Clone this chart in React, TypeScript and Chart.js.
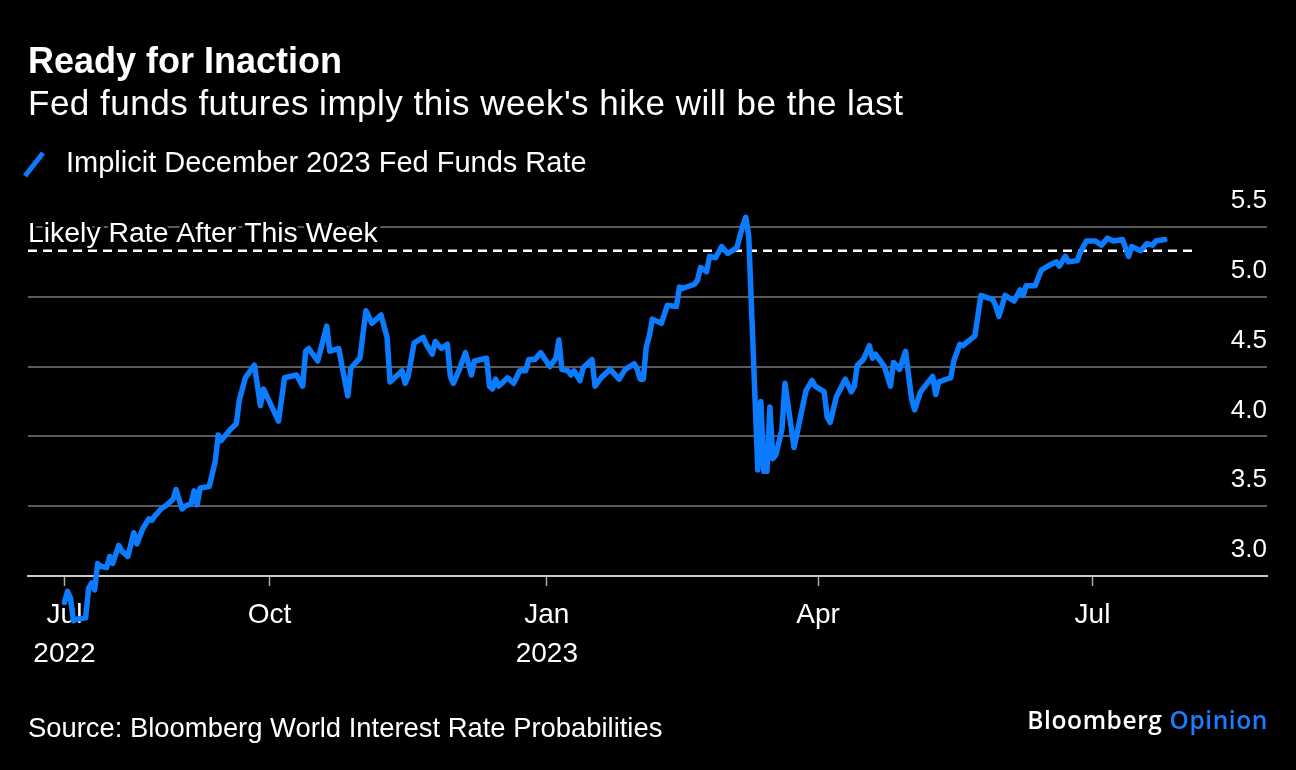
import React, { useEffect, useRef } from "react";
import { Chart, registerables } from "chart.js";

Chart.register(...registerables);

// Days since 2022-07-01 for each observation
const days = [
  24, 25, 26, 27, 28, 31, 32, 33, 34, 35, 36, 38, 39, 40, 42, 43, 45, 47, 48, 50,
  52, 53, 54, 56, 58, 60, 61, 63, 64, 66, 67, 68, 69, 72, 74, 75, 76, 79, 81, 82,
  84, 87, 89, 90, 95, 97, 101, 103, 104, 105, 108, 111, 112, 115, 116, 118, 119, 122, 124, 126,
  129, 131, 132, 136, 137, 138, 140, 143, 144, 146, 147, 149, 151, 152, 153, 155, 157, 159, 160, 164,
  165, 166, 167, 168, 171, 173, 175, 177, 178, 180, 182, 185, 187, 188, 189, 191, 192, 193, 195, 196,
  199, 200, 202, 205, 208, 210, 213, 214, 215, 216, 217, 218, 219, 222, 224, 227, 228, 229, 233, 234,
  235, 237, 238, 240, 242, 244, 247, 249, 250, 251, 252, 254, 255, 256, 257, 258, 259, 260, 262, 263,
  266, 270, 272, 273, 276, 277, 278, 280, 283, 285, 286, 287, 289, 291, 292, 293, 296, 298, 299, 301,
  303, 305, 306, 308, 312, 313, 314, 318, 319, 321, 322, 326, 328, 332, 333, 334, 336, 339, 341, 342,
  343, 346, 348, 351, 353, 354, 356, 357, 360, 361, 363, 366, 368, 370, 372, 375, 377, 378, 381, 383,
  385, 386, 389,
];

// Implicit December 2023 Fed Funds Rate (%)
const rates = [
  2.81, 2.89, 2.84, 2.68, 2.69, 2.70, 2.91, 2.95, 2.90, 3.09, 3.07, 3.06, 3.14, 3.09, 3.22, 3.18, 3.14, 3.31, 3.23, 3.34,
  3.41, 3.40, 3.43, 3.48, 3.51, 3.55, 3.62, 3.48, 3.50, 3.52, 3.61, 3.51, 3.63, 3.64, 3.82, 4.01, 3.97, 4.05, 4.09, 4.26,
  4.42, 4.51, 4.22, 4.34, 4.11, 4.42, 4.44, 4.36, 4.61, 4.63, 4.54, 4.79, 4.61, 4.63, 4.51, 4.29, 4.49, 4.56, 4.90, 4.81,
  4.87, 4.71, 4.39, 4.47, 4.38, 4.43, 4.67, 4.71, 4.66, 4.59, 4.68, 4.63, 4.66, 4.43, 4.38, 4.48, 4.60, 4.44, 4.54, 4.56,
  4.36, 4.34, 4.41, 4.36, 4.42, 4.38, 4.47, 4.47, 4.55, 4.55, 4.60, 4.50, 4.56, 4.69, 4.48, 4.47, 4.44, 4.47, 4.40, 4.49,
  4.55, 4.36, 4.42, 4.48, 4.41, 4.48, 4.52, 4.48, 4.41, 4.41, 4.64, 4.72, 4.84, 4.81, 4.94, 4.93, 5.07, 5.06, 5.09, 5.12,
  5.21, 5.18, 5.29, 5.28, 5.36, 5.31, 5.35, 5.51, 5.57, 5.43, 4.86, 3.76, 4.25, 3.75, 3.75, 4.21, 3.84, 3.87, 4.05, 4.38,
  3.92, 4.33, 4.40, 4.36, 4.32, 4.14, 4.10, 4.28, 4.41, 4.32, 4.36, 4.51, 4.55, 4.65, 4.56, 4.59, 4.50, 4.36, 4.53, 4.48,
  4.61, 4.27, 4.19, 4.32, 4.43, 4.30, 4.39, 4.42, 4.54, 4.66, 4.65, 4.72, 5.01, 4.98, 4.93, 4.86, 5.01, 4.97, 5.05, 5.01,
  5.08, 5.08, 5.19, 5.23, 5.25, 5.22, 5.29, 5.25, 5.26, 5.32, 5.40, 5.40, 5.37, 5.42, 5.40, 5.41, 5.29, 5.36, 5.33, 5.38,
  5.37, 5.40, 5.41,
];

// X axis ticks (days since 2022-07-01) and their labels
const tickDays = [24, 92, 184, 274, 365];
const tickLabels: string[][] = [["Jul", "2022"], ["Oct"], ["Jan", "2023"], ["Apr"], ["Jul"]];

// Y axis ticks
const yTicks = [3.0, 3.5, 4.0, 4.5, 5.0, 5.5];

// Reference line
const likelyRate = 5.33;
const likelyRateLabel = "Likely Rate After This Week";
const likelyRateDays = [11.9, 400];

const X_MIN = 11.9;
const X_MAX = 422.9;
const Y_MIN = 3.0;
const Y_MAX = 5.5;

const BLUE = "#0b7bff";
const FONT = "'Liberation Sans', Arial, Helvetica, sans-serif";

const labelPlugin = {
  id: "likelyLabel",
  beforeDatasetsDraw(chart: any) {
    const { ctx, chartArea, scales } = chart;
    const y = scales.y.getPixelForValue(likelyRate) - 9;
    ctx.save();
    ctx.font = `28.4px ${FONT}`;
    ctx.textAlign = "left";
    ctx.textBaseline = "alphabetic";
    ctx.lineWidth = 6;
    ctx.lineJoin = "round";
    ctx.strokeStyle = "#000";
    ctx.strokeText(likelyRateLabel, chartArea.left, y);
    ctx.fillStyle = "#fff";
    ctx.fillText(likelyRateLabel, chartArea.left, y);
    ctx.restore();
  },
};

export default function App() {
  const canvasRef = useRef<HTMLCanvasElement | null>(null);

  useEffect(() => {
    if (!canvasRef.current) return;
    Chart.defaults.font.family = FONT;
    const chart = new Chart(canvasRef.current, {
      type: "line",
      data: {
        datasets: [
          {
            label: "Implicit December 2023 Fed Funds Rate",
            data: days.map((d, i) => ({ x: d, y: rates[i] })),
            borderColor: BLUE,
            borderWidth: 5.5,
            borderJoinStyle: "round",
            borderCapStyle: "round",
            pointRadius: 0,
            tension: 0,
            clip: false,
          } as any,
          {
            label: likelyRateLabel,
            data: likelyRateDays.map((d) => ({ x: d, y: likelyRate })),
            borderColor: "#ffffff",
            borderWidth: 2.5,
            borderDash: [9, 6],
            pointRadius: 0,
            tension: 0,
          },
        ],
      },
      options: {
        responsive: false,
        animation: false,
        events: [],
        layout: { padding: { left: 28, right: 29, top: 227, bottom: 74 } },
        plugins: {
          legend: { display: false },
          tooltip: { enabled: false },
        },
        scales: {
          x: {
            type: "linear",
            min: X_MIN,
            max: X_MAX,
            afterBuildTicks: (s: any) => {
              s.ticks = tickDays.map((v) => ({ value: v }));
            },
            afterFit: (s: any) => {
              s.height = 120;
            },
            ticks: {
              autoSkip: false,
              maxRotation: 0,
              color: "#ffffff",
              padding: 9.5,
              font: { size: 28, lineHeight: 1.4 },
              callback: (_v: any, i: number) => tickLabels[i],
            },
            grid: {
              drawOnChartArea: false,
              drawTicks: true,
              tickLength: 10,
              tickColor: "#aaaaaa",
              tickWidth: 1.5,
            },
            border: { display: true, color: "#c8c8c8", width: 2 },
          },
          y: {
            type: "linear",
            position: "right",
            min: Y_MIN,
            max: Y_MAX,
            afterBuildTicks: (s: any) => {
              s.ticks = yTicks.map((v) => ({ value: v }));
            },
            afterFit: (s: any) => {
              s.width = 0;
            },
            ticks: {
              mirror: true,
              padding: 0,
              labelOffset: -26,
              color: "#ffffff",
              font: { size: 26 },
              callback: (v: any) => Number(v).toFixed(1),
            },
            grid: {
              drawTicks: false,
              lineWidth: 2,
              color: (c: any) => (c.tick && c.tick.value === Y_MIN ? "rgba(0,0,0,0)" : "#5a5a5a"),
            },
            border: { display: false },
          },
        },
      },
      plugins: [labelPlugin],
    });
    return () => chart.destroy();
  }, []);

  const abs = (extra: React.CSSProperties): React.CSSProperties => ({
    position: "absolute",
    margin: 0,
    whiteSpace: "nowrap",
    lineHeight: 1,
    fontFamily: FONT,
    color: "#ffffff",
    ...extra,
  });

  return (
    <div style={{ position: "fixed", left: 0, top: 0, width: 1296, height: 770, background: "#000", overflow: "hidden" }}>
      <canvas ref={canvasRef} width={1296} height={770} style={{ position: "absolute", left: 0, top: 0 }} />
      <div style={abs({ left: 28, top: 43, fontSize: 36, fontWeight: 700 })}>Ready for Inaction</div>
      <div style={abs({ left: 28, top: 85.4, fontSize: 35, letterSpacing: 0.5 })}>
        Fed funds futures imply this week's hike will be the last
      </div>
      <svg style={{ position: "absolute", left: 0, top: 0 }} width={60} height={190}>
        <line x1={25} y1={176} x2={43} y2={153} stroke={BLUE} strokeWidth={5} />
      </svg>
      <div style={abs({ left: 66, top: 148.2, fontSize: 29 })}>Implicit December 2023 Fed Funds Rate</div>
      <div style={abs({ left: 28, top: 714, fontSize: 27.4 })}>
        Source: Bloomberg World Interest Rate Probabilities
      </div>
      <div
        style={abs({
          right: 28,
          top: 707.5,
          fontSize: 24.5,
          letterSpacing: 0.6,
          fontFamily: "'Open Sans', Lato, sans-serif",
          fontWeight: 600,
        })}
      >
        <span style={{ color: "#ffffff" }}>Bloomberg</span>{" "}
        <span style={{ color: "#1a7cff" }}>Opinion</span>
      </div>
    </div>
  );
}
